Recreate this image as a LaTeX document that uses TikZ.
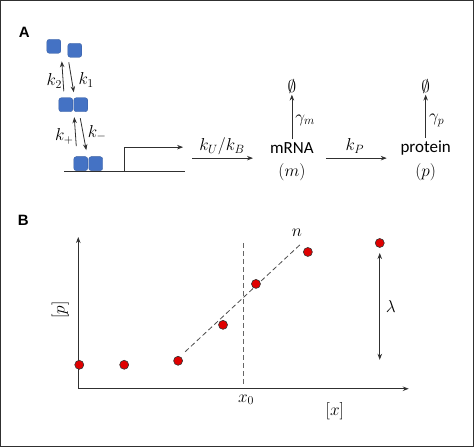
\documentclass[tikz,border=0pt]{standalone}
\usepackage{fontspec}
\setmainfont{Carlito}
\newfontfamily\panelfont{Liberation Sans}
\usetikzlibrary{arrows.meta}
\definecolor{sqblue}{HTML}{4472C4}
\definecolor{ln}{HTML}{303030}
\definecolor{dotred}{HTML}{E00000}
\begin{document}
\begin{tikzpicture}[x=1pt,y=-1pt,
  sq/.style={draw=sqblue!80!black,line width=0.3pt,fill=sqblue,rounded corners=2.5pt,minimum size=14pt,inner sep=0pt},
  tip/.style={-{Stealth[length=6pt,width=4.5pt]}},
  lbl/.style={font=\fontsize{17.5}{19}\selectfont,inner sep=1pt},
  txt/.style={font=\fontsize{17}{19}\selectfont,inner sep=1pt},
  dot/.style={circle,draw=black!80,line width=0.6pt,fill=dotred,minimum size=9pt,inner sep=0pt},
  panel/.style={font=\fontsize{15}{17}\selectfont\panelfont\bfseries},
  every path/.style={line width=0.8pt,draw=ln}]
\useasboundingbox (0,0) rectangle (474,447);
% Panel A
\node[panel] (A) at (24,32) {A};
\node[sq] (s1) at (53.5,46) {};
\node[sq] (s2) at (74.5,50) {};
\node[sq] (m1) at (65.5,104.5) {};
\node[sq] (m2) at (80.5,104.5) {};
\node[sq] (b1) at (80.5,163.5) {};
\node[sq] (b2) at (95.5,163.5) {};
\coordinate (u1s) at (63.5,91);
\coordinate (u1e) at (61.5,61);
\coordinate (d1s) at (68.5,62);
\coordinate (d1e) at (73.5,92);
\draw[tip] (u1s) -- (u1e);
\draw[tip] (d1s) -- (d1e);
\node[lbl] (k2) at (54,81) {$k_2$};
\node[lbl] (k1) at (86,80) {$k_1$};
\coordinate (u2s) at (76,146);
\coordinate (u2e) at (74,117);
\coordinate (d2s) at (80,118);
\coordinate (d2e) at (86,150);
\draw[tip] (u2s) -- (u2e);
\draw[tip] (d2s) -- (d2e);
\node[lbl] (kp) at (64,136) {$k_+$};
\node[lbl] (km) at (97,133) {$k_-$};
\coordinate (bl) at (64,171);
\coordinate (br) at (185,171);
\draw (bl) -- (br);
\coordinate (pr) at (124,171);
\coordinate (pe) at (183,147);
\draw[tip] (pr) |- (pe);
% reactions
\node[txt] (mrna) at (292,148) {mRNA};
\node[txt] (mm) at (292,172) {$(m)$};
\node[txt] (prot) at (426,148) {protein};
\node[txt] (pp) at (426,172) {$(p)$};
\node[lbl] (e1) at (292,86) {$\emptyset$};
\node[lbl] (e2) at (426,86) {$\emptyset$};
\coordinate (a1s) at (192,158);
\coordinate (a1e) at (253,158);
\draw[tip] (a1s) -- (a1e);
\node[lbl] (kukb) at (222,146) {$k_U/k_B$};
\coordinate (a2s) at (326,158);
\coordinate (a2e) at (387,158);
\draw[tip] (a2s) -- (a2e);
\node[lbl] (kP) at (355,146) {$k_P$};
\draw[tip] (mrna.north) ++(0,-2) -- (e1.south);
\draw[tip] (prot.north) ++(0,-2) -- (e2.south);
\node[lbl,anchor=west] (gm) at (294,120) {$\gamma_m$};
\node[lbl,anchor=west] (gp) at (428,120) {$\gamma_p$};
% Panel B
\node[panel] (B) at (23,220) {B};
\coordinate (O) at (78,389);
\coordinate (ytop) at (78,237);
\coordinate (xend) at (409,389);
\draw[tip] (O) -- (ytop);
\draw[tip] (O) -- (xend);
\node[lbl,rotate=90] (plab) at (60,310) {$[p]$};
\node[lbl] (xlab) at (335,411) {$[x]$};
\node[lbl] (x0) at (246,400) {$x_0$};
\coordinate (vt) at (243,243);
\coordinate (vb) at (243,386);
\draw[dashed,dash pattern=on 5pt off 3pt,draw=black!60] (vt) -- (vb);
\coordinate (ds) at (185,352);
\coordinate (de) at (302,243);
\draw[dashed,dash pattern=on 5pt off 3pt,draw=black!70] (ds) -- (de);
\node[lbl] (n) at (297,233) {$n$};
\node[dot] (p1) at (79,365) {};
\node[dot] (p2) at (124,365) {};
\node[dot] (p3) at (178,361) {};
\node[dot] (p4) at (223,325) {};
\node[dot] (p5) at (256,284) {};
\node[dot] (p6) at (308,252) {};
\node[dot] (p7) at (380,243) {};
\coordinate (lt) at (380,253);
\coordinate (lb) at (380,360);
\draw[{Stealth[length=6pt,width=4.5pt]}-{Stealth[length=6pt,width=4.5pt]}] (lt) -- (lb);
\node[lbl] (lam) at (391,307) {$\lambda$};
\end{tikzpicture}
\end{document}
